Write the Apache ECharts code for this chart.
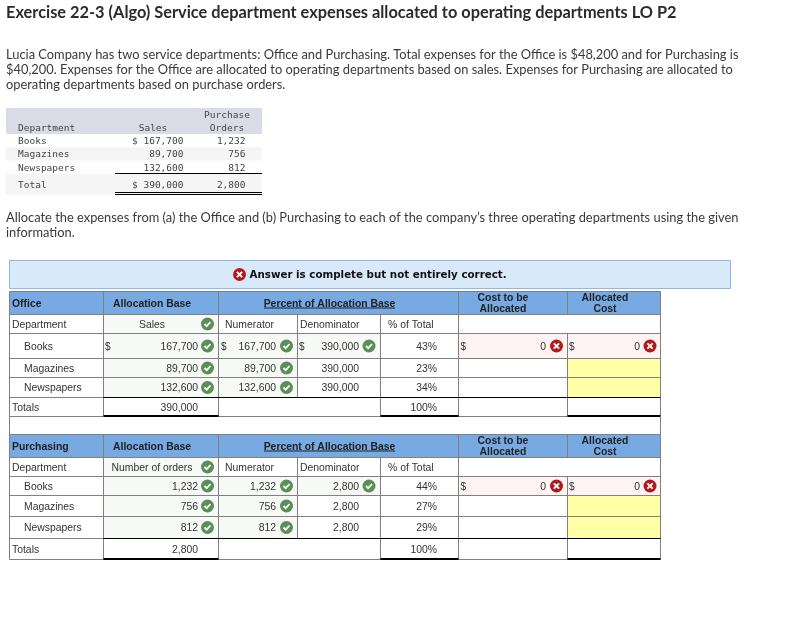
<!DOCTYPE html>
<html lang="en">
<head>
    <meta charset="UTF-8">
    <title>Exercise 22-3</title>
    <script src="https://cdn.jsdelivr.net/npm/echarts@6/dist/echarts.min.js"></script>
</head>
<style>
    html,body{margin:0;padding:0;background:#fff;}
    #main{width:807px;height:628px;}
</style>
<body>
    <div id="main"></div>
    <script>
        // text and table values
        var title='Exercise 22-3 (Algo) Service department expenses allocated to operating departments LO P2';
        var intro=[
            'Lucia Company has two service departments: Office and Purchasing. Total expenses for the Office is $48,200 and for Purchasing is',
            '$40,200. Expenses for the Office are allocated to operating departments based on sales. Expenses for Purchasing are allocated to',
            'operating departments based on purchase orders.'
        ];
        var task=[
            'Allocate the expenses from (a) the Office and (b) Purchasing to each of the company\u2019s three operating departments using the given',
            'information.'
        ];
        var banner='Answer is complete but not entirely correct.';
        var departments=['Books','Magazines','Newspapers'];
        var salesText=['167,700','89,700','132,600'];
        var ordersText=['1,232','756','812'];
        var salesTotal='390,000';
        var ordersTotal='2,800';
        var officePct=['43%','23%','34%'];
        var purchPct=['44%','27%','29%'];
        var answerZero='0';

        var gridCol='#808080',F_BODY='Lato',F_MONO='DejaVu Sans Mono',F_CELL='Liberation Sans';
        var els=[];
        function T(x,y,s,o){
            o=o||{};
            els.push({type:'text',z:o.z||5,style:{x:x,y:y+1,text:s,textAlign:o.a||'left',textVerticalAlign:'middle',
                font:(o.w||'normal')+' '+(o.s||10.4)+'px "'+(o.f||F_CELL)+'"',fill:o.c||'#333'}});
        }
        function R(x,y,w,h,fill,stroke){
            els.push({type:'rect',z:1,shape:{x:x,y:y,width:w,height:h},style:{fill:fill,stroke:stroke||null,lineWidth:1}});
        }
        function L(x1,y1,x2,y2,c,w){
            els.push({type:'line',z:3,shape:{x1:x1,y1:y1,x2:x2,y2:y2},style:{stroke:c||gridCol,lineWidth:w||1}});
        }
        function ok(cx,cy){
            els.push({type:'circle',z:4,shape:{cx:cx,cy:cy,r:6.5},style:{fill:'#5b8f58'}});
            els.push({type:'polyline',z:5,shape:{points:[[cx-3,cy],[cx-0.8,cy+2.2],[cx+3,cy-2]]},style:{stroke:'#fff',lineWidth:1.8,fill:null}});
        }
        function bad(cx,cy){
            els.push({type:'circle',z:4,shape:{cx:cx,cy:cy,r:6.5},style:{fill:'#b5181c'}});
            els.push({type:'line',z:5,shape:{x1:cx-2.6,y1:cy-2.6,x2:cx+2.6,y2:cy+2.6},style:{stroke:'#fff',lineWidth:2}});
            els.push({type:'line',z:5,shape:{x1:cx+2.6,y1:cy-2.6,x2:cx-2.6,y2:cy+2.6},style:{stroke:'#fff',lineWidth:2}});
        }

        // heading and paragraphs
        T(6,11.5,title,{f:F_BODY,w:'bold',s:16.35,c:'#2b2b2b'});
        intro.forEach(function(s,i){T(6,53.5+i*15,s,{f:F_BODY,s:12.86,c:'#3a3a3a'});});
        task.forEach(function(s,i){T(6,216.5+i*15,s,{f:F_BODY,s:12.86,c:'#3a3a3a'});});

        // small source table
        R(6,108,256,26,'#d9dce7');
        R(6,147,256,13.5,'#f5f5f5');
        R(6,174,256,21,'#f5f5f5');
        function M(x,y,s,a){T(x,y,s,{f:F_MONO,s:9.5,c:'#444',a:a});}
        M(227,115,'Purchase','center');
        M(18,128,'Department');M(153,128,'Sales','center');M(227,128,'Orders','center');
        var srcY=[141,154,168];
        departments.forEach(function(d,i){
            M(18,srcY[i],d);
            M(183.5,srcY[i],(i==0?'$ ':'')+salesText[i],'right');
            M(245.5,srcY[i],ordersText[i],'right');
        });
        M(18,184.5,'Total');M(183.5,184.5,'$ '+salesTotal,'right');M(245.5,184.5,ordersTotal,'right');
        L(115,173.5,262,173.5,'#000');
        L(115,192.5,262,192.5,'#000');
        L(115,194.5,262,194.5,'#000');

        // banner
        R(9.5,260.5,721,28,'#d8eafa','#8fb8e6');
        bad(239.5,274.5);
        T(249.5,274,banner,{f:'DejaVu Sans',w:'bold',s:10.3,c:'#111'});

        // answer tables
        var X=[9.5,103.5,218.5,297.5,380.5,458.5,567.5,660.5];
        function table(y,name,baseLabel,vals,total,pct,dollar){
            // y: header top, header bottom, dept bottom, rows bottoms, totals bottom
            var top=y[0],hb=y[1],db=y[2],r1=y[3],r2=y[4],r3=y[5],tb=y[6];
            var cy=[(db+r1)/2,(r1+r2)/2,(r2+r3)/2];
            R(X[0],top,X[7]-X[0],hb-top,'#77a9e2');
            R(X[1],hb,X[2]-X[1],r3-hb,'#f6f9f5');
            R(X[2],db,X[3]-X[2],r3-db,'#f6f9f5');
            R(X[3],db,X[4]-X[3],r1-db,'#f6f9f5');
            R(X[5],db,X[7]-X[5],r1-db,'#fdf3f2');
            R(X[6],r1,X[7]-X[6],r3-r1,'#ffffa6');
            // horizontals
            [top,hb,db,r1,r2,r3,tb].forEach(function(v){L(X[0],v,X[7],v);});
            // verticals
            [X[0],X[1],X[7]].forEach(function(v){L(v,top,v,tb);});
            L(X[2],top,X[2],tb);L(X[5],top,X[5],tb);L(X[6],top,X[6],hb);L(X[6],db,X[6],tb);
            L(X[3],hb,X[3],r3);L(X[4],hb,X[4],tb);
            // heavy total rules
            L(X[1],r3,X[7],r3,'#000');
            [[1,2],[4,5],[6,7]].forEach(function(p){L(X[p[0]],tb-0.5,X[p[1]],tb-0.5,'#000',2);});

            var h=(top+hb)/2;
            T(12,h,name,{w:'bold',c:'#222'});
            T(152,h,'Allocation Base',{w:'bold',a:'center',c:'#222'});
            T(329.5,h,'Percent of Allocation Base',{w:'bold',a:'center',c:'#222'});
            L(264,h+5,395,h+5,'#222');
            T(503,h-5.5,'Cost to be',{w:'bold',a:'center',c:'#222'});T(503,h+5.5,'Allocated',{w:'bold',a:'center',c:'#222'});
            T(605,h-5.5,'Allocated',{w:'bold',a:'center',c:'#222'});T(605,h+5.5,'Cost',{w:'bold',a:'center',c:'#222'});

            var d=(hb+db)/2;
            T(12,d,'Department');
            T(152,d,baseLabel,{a:'center'});ok(207.5,d);
            T(225,d,'Numerator');T(300,d,'Denominator');T(388,d,'% of Total');

            departments.forEach(function(dep,i){
                T(24,cy[i],dep);
                T(198,cy[i],vals[i],{a:'right'});ok(207.5,cy[i]);
                T(276,cy[i],vals[i],{a:'right'});ok(286.5,cy[i]);
                T(359,cy[i],total,{a:'right'});
                T(437,cy[i],pct[i],{a:'right'});
            });
            ok(369,cy[0]);
            if(dollar){
                T(105,cy[0],'$',{s:10});T(221,cy[0],'$',{s:10});T(299,cy[0],'$',{s:10});
            }
            T(460.5,cy[0],'$',{s:10});T(569,cy[0],'$',{s:10});
            T(546,cy[0],answerZero,{a:'right'});bad(556.5,cy[0]);
            T(640,cy[0],answerZero,{a:'right'});bad(650,cy[0]);

            var t=(r3+tb)/2;
            T(12,t,'Totals');
            T(198,t,total,{a:'right'});
            T(437,t,'100%',{a:'right'});
        }
        table([291.5,314.5,333.5,358.5,377.5,397.5,416.5],'Office','Sales',salesText,salesTotal,officePct,true);
        table([434.5,457.5,476.5,495.5,516.5,538.5,559.5],'Purchasing','Number of orders',ordersText,ordersTotal,purchPct,false);
        // blank row between the tables
        L(X[0],416.5,X[0],434.5);L(X[7],416.5,X[7],434.5);

        var chart=echarts.init(document.getElementById('main'));
        chart.setOption({animation:false,backgroundColor:'#fff',graphic:{elements:els}});
    </script>
</body>
</html>
